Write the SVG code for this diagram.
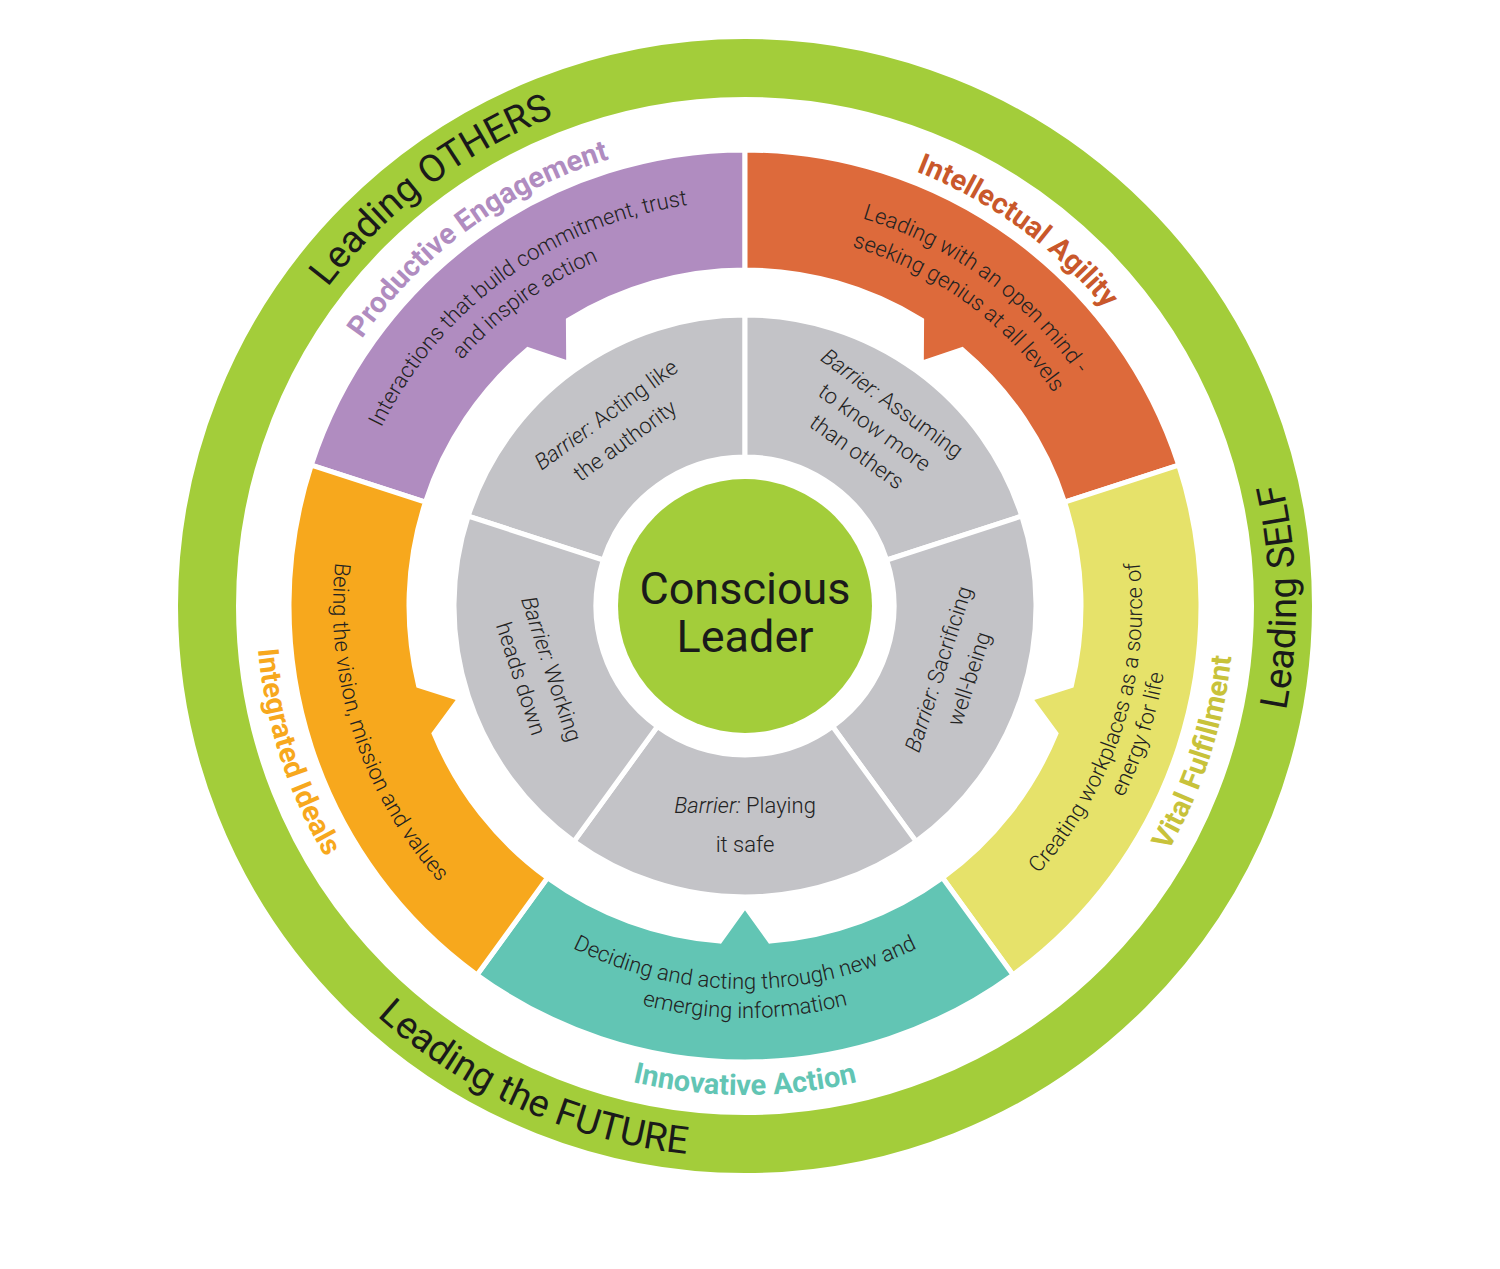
<svg xmlns="http://www.w3.org/2000/svg" width="1500" height="1269" viewBox="0 0 1500 1269">
<style>
.seg{stroke:#fff;stroke-width:5}
.outer{font-family:Roboto,"Liberation Sans",sans-serif;font-size:38px;fill:#1a1a1a}
.lbl{font-family:Roboto,"Liberation Sans",sans-serif;font-size:29px;font-weight:bold}
.desc{font-family:Roboto,"Liberation Sans",sans-serif;font-size:22px;font-weight:300;fill:#222}
.bar{font-family:Roboto,"Liberation Sans",sans-serif;font-size:22px;font-weight:300;fill:#222;text-anchor:middle}
.bar tspan.i{font-style:italic}
</style>
<defs>
<path id="cw525" d="M745,1131 A525,525 0 1 1 745,81 A525,525 0 1 1 745,1131"/>
<path id="cw467" d="M745,1073 A467,467 0 1 1 745,139 A467,467 0 1 1 745,1073"/>
<path id="cw405" d="M745,1011 A405,405 0 1 1 745,201 A405,405 0 1 1 745,1011"/>
<path id="cw375" d="M745,981 A375,375 0 1 1 745,231 A375,375 0 1 1 745,981"/>
<path id="ccw551" d="M745,55 A551,551 0 1 0 745,1157 A551,551 0 1 0 745,55"/>
<path id="ccw489" d="M745,117 A489,489 0 1 0 745,1095 A489,489 0 1 0 745,117"/>
<path id="ccw412" d="M745,194 A412,412 0 1 0 745,1018 A412,412 0 1 0 745,194"/>
<path id="ccw397" d="M745,209 A397,397 0 1 0 745,1003 A397,397 0 1 0 745,209"/>
<path id="ccw383" d="M745,223 A383,383 0 1 0 745,989 A383,383 0 1 0 745,223"/>
<path id="ccw424" d="M745,182 A424,424 0 1 0 745,1030 A424,424 0 1 0 745,182"/>
</defs>

<g id="outer-ring">
<circle cx="745" cy="606" r="538" fill="none" stroke="#a3cd3a" stroke-width="58"/>
<g transform="rotate(-37 745 606)"><text class="outer" text-anchor="middle"><textPath href="#cw525" startOffset="50%">Leading OTHERS</textPath></text></g>
<g transform="rotate(-91 745 606)"><text class="outer" text-anchor="middle"><textPath href="#ccw551" startOffset="50%">Leading SELF</textPath></text></g>
<g transform="rotate(24 745 606)"><text class="outer" text-anchor="middle"><textPath href="#ccw551" startOffset="50%">Leading the FUTURE</textPath></text></g>
</g>

<g id="productive-engagement">
<path class="seg" fill="#b08cc0" d="M311.3,465.1 A456,456 0 0 1 745,150 L745,270 A336,336 0 0 0 568.4,320.1 L568.7,363.3 L527.8,349.6 A336,336 0 0 0 425.4,502.2 Z"/>
<g transform="rotate(-36 745 606)">
<text class="lbl" fill="#b08cc0" text-anchor="middle"><textPath href="#cw467" startOffset="50%">Productive Engagement</textPath></text>
<text class="desc" text-anchor="middle"><textPath href="#cw405" startOffset="50%">Interactions that build commitment, trust</textPath></text>
<text class="desc" text-anchor="middle"><textPath href="#cw375" startOffset="50%">and inspire action</textPath></text>
</g>
</g>

<g id="intellectual-agility">
<path class="seg" fill="#dd6a3b" d="M745,150 A456,456 0 0 1 1178.7,465.1 L1064.6,502.2 A336,336 0 0 0 962.2,349.6 L921.3,363.3 L921.6,320.1 A336,336 0 0 0 745,270 Z"/>
<g transform="rotate(36 745 606)">
<text class="lbl" fill="#c9582b" text-anchor="middle"><textPath href="#cw467" startOffset="50%">Intellectual Agility</textPath></text>
<text class="desc" text-anchor="middle"><textPath href="#cw405" startOffset="50%">Leading with an open mind -</textPath></text>
<text class="desc" text-anchor="middle"><textPath href="#cw375" startOffset="50%">seeking genius at all levels</textPath></text>
</g>
</g>

<g id="vital-fulfillment">
<path class="seg" fill="#e6e26a" d="M1178.7,465.1 A456,456 0 0 1 1013,974.9 L942.5,877.8 A336,336 0 0 0 1055.9,733.5 L1030.3,698.7 L1071.4,685.6 A336,336 0 0 0 1064.6,502.2 Z"/>
<g transform="rotate(-72 745 606)">
<text class="lbl" fill="#c8c23a" text-anchor="middle"><textPath href="#ccw489" startOffset="50%">Vital Fulfillment</textPath></text>
<text class="desc" text-anchor="middle"><textPath href="#ccw397" startOffset="50%">Creating workplaces as a source of</textPath></text>
<text class="desc" text-anchor="middle"><textPath href="#ccw424" startOffset="50%">energy for life</textPath></text>
</g>
</g>

<g id="innovative-action">
<path class="seg" fill="#62c5b4" d="M1013,974.9 A456,456 0 0 1 477,974.9 L547.5,877.8 A336,336 0 0 0 719.8,941.1 L745,906 L770.2,941.1 A336,336 0 0 0 942.5,877.8 Z"/>
<text class="lbl" fill="#62c5b4" text-anchor="middle"><textPath href="#ccw489" startOffset="50%">Innovative Action</textPath></text>
<text class="desc" text-anchor="middle"><textPath href="#ccw383" startOffset="50%">Deciding and acting through new and</textPath></text>
<text class="desc" text-anchor="middle"><textPath href="#ccw412" startOffset="50%">emerging information</textPath></text>
</g>

<g id="integrated-ideals">
<path class="seg" fill="#f7a81d" d="M477,974.9 A456,456 0 0 1 311.3,465.1 L425.4,502.2 A336,336 0 0 0 418.6,685.6 L459.7,698.7 L434.1,733.5 A336,336 0 0 0 547.5,877.8 Z"/>
<g transform="rotate(72 745 606)">
<text class="lbl" fill="#f7a81d" text-anchor="middle"><textPath href="#ccw489" startOffset="50%">Integrated Ideals</textPath></text>
<text class="desc" text-anchor="middle"><textPath href="#ccw412" startOffset="50%">Being the vision, mission and values</textPath></text>
</g>
</g>

<g id="barrier-authority">
<path class="seg" fill="#c3c3c7" d="M468.2,516.1 A291,291 0 0 1 745,315 L745,457 A149,149 0 0 0 603.3,560 Z"/>
<text class="bar" transform="translate(615.7,428) rotate(-36)"><tspan class="i" x="0" y="-9">Barrier:</tspan> Acting like<tspan x="0" y="23">the authority</tspan></text>
</g>
<g id="barrier-assuming">
<path class="seg" fill="#c3c3c7" d="M745,315 A291,291 0 0 1 1021.8,516.1 L886.7,560 A149,149 0 0 0 745,457 Z"/>
<text class="bar" transform="translate(874.3,428) rotate(36)"><tspan class="i" x="0" y="-23">Barrier:</tspan> Assuming<tspan x="0" y="7">to know more</tspan><tspan x="0" y="37">than others</tspan></text>
</g>
<g id="barrier-sacrificing">
<path class="seg" fill="#c3c3c7" d="M1021.8,516.1 A291,291 0 0 1 916,841.4 L832.6,726.5 A149,149 0 0 0 886.7,560 Z"/>
<text class="bar" transform="translate(954.2,674) rotate(-72)"><tspan class="i" x="0" y="-9">Barrier:</tspan> Sacrificing<tspan x="0" y="23">well-being</tspan></text>
</g>
<g id="barrier-playing">
<path class="seg" fill="#c3c3c7" d="M916,841.4 A291,291 0 0 1 574,841.4 L657.4,726.5 A149,149 0 0 0 832.6,726.5 Z"/>
<text class="bar" transform="translate(745,822)"><tspan class="i" x="0" y="-9">Barrier:</tspan> Playing<tspan x="0" y="30">it safe</tspan></text>
</g>
<g id="barrier-working">
<path class="seg" fill="#c3c3c7" d="M574,841.4 A291,291 0 0 1 468.2,516.1 L603.3,560 A149,149 0 0 0 657.4,726.5 Z"/>
<text class="bar" transform="translate(535.8,674) rotate(72)"><tspan class="i" x="0" y="-9">Barrier:</tspan> Working<tspan x="0" y="23">heads down</tspan></text>
</g>

<g id="center">
<circle cx="745" cy="606" r="127" fill="#a3cd3a"/>
<text font-family="Roboto,'Liberation Sans',sans-serif" font-size="45" fill="#1a1a1a" text-anchor="middle"><tspan x="745" y="604">Conscious</tspan><tspan x="745" y="652">Leader</tspan></text>
</g>
<g id="connectors"/>
</svg>
